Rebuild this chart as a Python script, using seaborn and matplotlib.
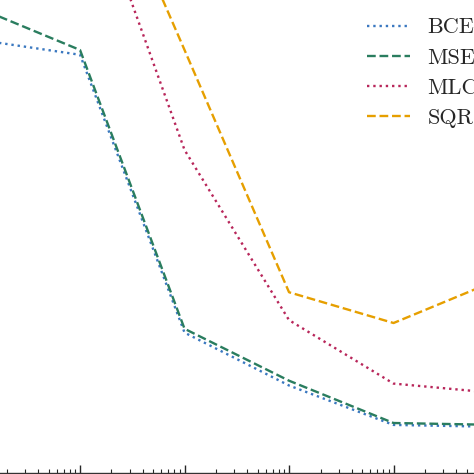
import numpy as np
import pandas as pd
import matplotlib
matplotlib.use('Agg')
import matplotlib.pyplot as plt
import seaborn as sns

sns.set_style('white')
plt.rcParams['font.family'] = ['cmr10', 'DejaVu Serif']
plt.rcParams['axes.formatter.use_mathtext'] = True

# 训练样本数（对数坐标）
sizes = [1e1, 1e2, 1e3, 1e4, 1e5, 1e6]

# 各损失函数的误差
bce = [0.451, 0.435, 0.146, 0.091, 0.050, 0.048]
mse = [0.485, 0.440, 0.150, 0.096, 0.052, 0.050]
mlc = [0.762, 0.639, 0.336, 0.159, 0.093, 0.083]
sqr = [0.835, 0.690, 0.440, 0.188, 0.156, 0.201]

series = {'BCE': bce, 'MSE': mse, 'MLC': mlc, 'SQR': sqr}
colors = {'BCE': '#3a78c0', 'MSE': '#2a7d5f', 'MLC': '#b8265a', 'SQR': '#e69f00'}
styles = {'BCE': ':', 'MSE': '--', 'MLC': ':', 'SQR': '--'}

fig = plt.figure(figsize=(4.74, 4.74), dpi=100)
# 原图是裁剪过的，坐标轴超出画面
ax = fig.add_axes([-60 / 474, 1 / 474, 594 / 474, 673 / 474])

for name, vals in series.items():
    sns.lineplot(x=sizes, y=vals, ax=ax, color=colors[name],
                 linestyle=styles[name], linewidth=1.7, label=name)

ax.set_xscale('log')
ax.set_xlim(10 ** 0.660, 10 ** 6.344)
ax.set_ylim(0.0, 0.7)

ax.tick_params(axis='x', which='major', direction='in', length=6, width=1.0,
               bottom=True, top=False, labelbottom=False)
ax.tick_params(axis='x', which='minor', direction='in', length=3, width=0.8,
               bottom=True, top=False)
ax.tick_params(axis='y', left=False, labelleft=False)
for s in ['left', 'right', 'top']:
    ax.spines[s].set_visible(False)
ax.spines['bottom'].set_linewidth(1.0)
ax.spines['bottom'].set_color('#333333')

leg = ax.legend(loc='upper left', bbox_to_anchor=(358 / 474, 1 - 9 / 474),
                bbox_transform=fig.transFigure, borderaxespad=0,
                fontsize=16, handlelength=1.94, handletextpad=0.78,
                labelspacing=0.48, frameon=True, framealpha=0.8,
                edgecolor='none', fancybox=False)

fig.savefig('out.png', dpi=100)
